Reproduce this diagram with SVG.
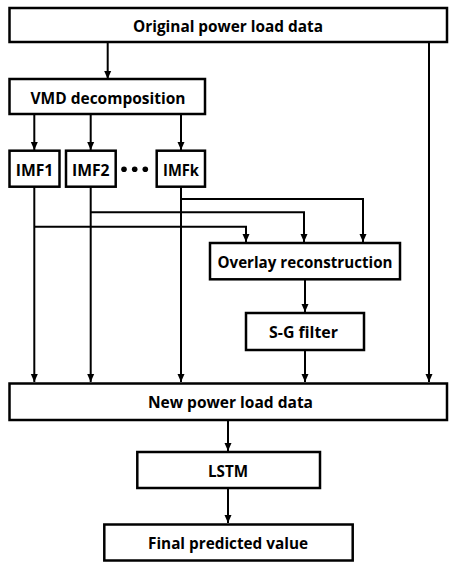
<svg xmlns="http://www.w3.org/2000/svg" width="451" height="562" viewBox="0 0 451 562">
<defs>
<marker id="ah" viewBox="0 0 8 8" refX="8" refY="4" markerWidth="8" markerHeight="8" markerUnits="userSpaceOnUse" orient="auto">
<path d="M0,0.5 L8,4 L0,7.5 Z" fill="#000"/>
</marker>
<style>
.box{fill:#fff;stroke:#000;stroke-width:2.5}
.t{font-family:"Open Sans","Liberation Sans",sans-serif;font-weight:bold;font-size:16px;text-anchor:middle;fill:#000}
.c{fill:none;stroke:#000;stroke-width:2}
.a{marker-end:url(#ah)}
</style>
</defs>
<rect width="451" height="562" fill="#fff"/>
<g id="connectors">
<path class="c a" d="M107.7,42 V79"/>
<path class="c a" d="M429,42 V382"/>
<path class="c a" d="M34.3,114 V150"/>
<path class="c a" d="M90.7,114 V150"/>
<path class="c a" d="M181,114 V150"/>
<path class="c a" d="M34.3,187 V382"/>
<path class="c a" d="M90.7,187 V382"/>
<path class="c a" d="M181,187 V382"/>
<path class="c a" d="M181,199 H363 V242"/>
<path class="c a" d="M90.7,212.3 H304 V242"/>
<path class="c a" d="M34.3,226.7 H246 V242"/>
<path class="c a" d="M305,279 V312"/>
<path class="c a" d="M305,350 V382"/>
<path class="c a" d="M228,420 V451"/>
<path class="c a" d="M228,488 V523"/>
</g>
<g id="original"><rect class="box" x="9.5" y="8" width="437.5" height="34"/><text class="t" x="228" y="31.5" textLength="190" lengthAdjust="spacingAndGlyphs">Original power load data</text></g>
<g id="vmd"><rect class="box" x="9.5" y="79" width="195.5" height="35"/><text class="t" x="108" y="104" textLength="155" lengthAdjust="spacingAndGlyphs">VMD decomposition</text></g>
<g id="imf1"><rect class="box" x="9.5" y="150.7" width="50" height="36"/><text class="t" x="34.5" y="175.5" textLength="37.6" lengthAdjust="spacingAndGlyphs">IMF1</text></g>
<g id="imf2"><rect class="box" x="66" y="150.7" width="49.7" height="36"/><text class="t" x="90.8" y="175.5" textLength="37.6" lengthAdjust="spacingAndGlyphs">IMF2</text></g>
<g id="dots"><circle cx="124" cy="169.3" r="2.8"/><circle cx="134.7" cy="169.3" r="2.8"/><circle cx="145.3" cy="169.3" r="2.8"/></g>
<g id="imfk"><rect class="box" x="156.7" y="150.7" width="48.3" height="36"/><text class="t" x="181" y="175.5" textLength="36" lengthAdjust="spacingAndGlyphs">IMFk</text></g>
<g id="overlay"><rect class="box" x="210" y="243" width="190" height="36.3"/><text class="t" x="305" y="267.5" textLength="175" lengthAdjust="spacingAndGlyphs">Overlay reconstruction</text></g>
<g id="sg"><rect class="box" x="246" y="313" width="118" height="37"/><text class="t" x="303.5" y="338" textLength="69" lengthAdjust="spacingAndGlyphs">S-G filter</text></g>
<g id="newpower"><rect class="box" x="9.5" y="383.5" width="437.5" height="36.5"/><text class="t" x="230.5" y="408" textLength="165" lengthAdjust="spacingAndGlyphs">New power load data</text></g>
<g id="lstm"><rect class="box" x="137.3" y="452" width="182.7" height="36"/><text class="t" x="228" y="477" textLength="40" lengthAdjust="spacingAndGlyphs">LSTM</text></g>
<g id="final"><rect class="box" x="104.3" y="524.5" width="248.4" height="36"/><text class="t" x="228" y="549" textLength="160" lengthAdjust="spacingAndGlyphs">Final predicted value</text></g>
</svg>
